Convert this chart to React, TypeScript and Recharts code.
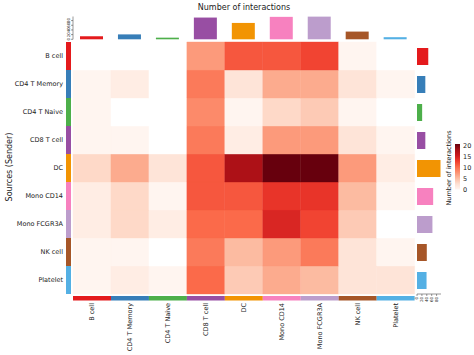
import React from 'react';
import { Bar, BarChart, Cell, XAxis, YAxis } from 'recharts';

const cellTypes = [
  'B cell',
  'CD4 T Memory',
  'CD4 T Naive',
  'CD8 T cell',
  'DC',
  'Mono CD14',
  'Mono FCGR3A',
  'NK cell',
  'Platelet',
];

const groupColors = [
  '#E41A1C',
  '#377EB8',
  '#4DAF4A',
  '#984EA3',
  '#F29403',
  '#F781BF',
  '#BC9DCC',
  '#A65628',
  '#54B0E4',
];

// interaction counts, one array per sender, receivers in cellTypes order
const bCell = [0, 0, 0, 8, 12, 12, 13, 1, 0];
const cd4Memory = [1, 2, 0, 10, 3, 7, 7, 3, 1];
const cd4Naive = [1, 0, 0, 9, 1, 4, 5, 1, 0];
const cd8T = [1, 1, 0, 10, 2, 8, 8, 3, 1];
const dc = [4, 7, 3, 12, 18, 21, 21, 8, 2];
const monoCD14 = [2, 4, 1, 12, 12, 14, 14, 6, 1];
const monoFCGR3A = [2, 4, 2, 11, 11, 15, 13, 5, 0];
const nkCell = [1, 1, 0, 10, 6, 8, 10, 3, 1];
const platelet = [1, 2, 1, 11, 5, 7, 6, 3, 3];

const counts = [bCell, cd4Memory, cd4Naive, cd8T, dc, monoCD14, monoFCGR3A, nkCell, platelet];

const barTicks = [0, 20, 40, 60, 80];
const legendTicks = [0, 5, 10, 15, 20];

const REDS = ['#fff5f0', '#fee0d2', '#fcbba1', '#fc9272', '#fb6a4a', '#ef3b2c', '#cb181d', '#a50f15', '#67000d'];

const nonZero = counts.flat().filter((v) => v > 0);
const vMin = Math.min(...nonZero);
const vMax = Math.max(...nonZero);

function hexToRgb(hex: string) {
  const n = parseInt(hex.slice(1), 16);
  return [(n >> 16) & 255, (n >> 8) & 255, n & 255];
}

function mix(a: string, b: string, f: number) {
  const ca = hexToRgb(a);
  const cb = hexToRgb(b);
  const c = ca.map((v, i) => Math.round(v + (cb[i] - v) * f));
  return `rgb(${c[0]},${c[1]},${c[2]})`;
}

function heatColor(v: number) {
  if (!v) return '#ffffff';
  const t = Math.max(0, Math.min(1, (v - vMin) / (vMax - vMin)));
  const pos = t * (REDS.length - 1);
  const i = Math.min(Math.floor(pos), REDS.length - 2);
  return mix(REDS[i], REDS[i + 1], pos - i);
}

const heatData = cellTypes.map((name) => {
  const row: Record<string, string | number> = { name };
  cellTypes.forEach((_, r) => {
    row[`s${r}`] = 1;
  });
  return row;
});

const colTotals = cellTypes.map((name, c) => ({
  name,
  total: counts.reduce((s, row) => s + row[c], 0),
}));

const rowTotals = cellTypes.map((name, r) => ({
  name,
  total: counts[r].reduce((s, v) => s + v, 0),
}));

const stripData = cellTypes.map((name) => ({ name, one: 1 }));

const TEXT = '#222';

function ColumnTick({ x, y, payload }: any) {
  return (
    <text
      x={x}
      y={y}
      dy="0.35em"
      textAnchor="end"
      fontSize={6.5}
      fill={TEXT}
      transform={`rotate(-90, ${x}, ${y})`}
    >
      {payload.value}
    </text>
  );
}

function RowTick({ x, y, payload }: any) {
  return (
    <text x={x} y={y} dy="0.35em" textAnchor="end" fontSize={6.5} fill={TEXT}>
      {cellTypes[8 - Math.floor(payload.value)]}
    </text>
  );
}

function TinyLeftTick({ x, y, payload }: any) {
  return (
    <text x={x} y={y} textAnchor="middle" fontSize={4} fill={TEXT} transform={`rotate(-90, ${x}, ${y})`}>
      {payload.value}
    </text>
  );
}

function TinyBottomTick({ x, y, payload }: any) {
  return (
    <text
      x={x}
      y={y}
      dy="0.35em"
      textAnchor="end"
      fontSize={4}
      fill={TEXT}
      transform={`rotate(-90, ${x}, ${y})`}
    >
      {payload.value}
    </text>
  );
}

const abs = (left: number, top: number): React.CSSProperties => ({ position: 'absolute', left, top });

export default function App() {
  return (
    <div
      style={{
        position: 'absolute',
        left: 0,
        top: 0,
        width: 474,
        height: 355,
        background: '#fff',
        overflow: 'hidden',
        fontFamily: '"DejaVu Sans", sans-serif',
      }}
    >
      {/* main heatmap */}
      <div style={abs(0, 0)}>
        <BarChart
          width={474}
          height={355}
          data={heatData}
          barCategoryGap={0}
          margin={{ top: 42, right: 59.4, bottom: 0, left: 13 }}
        >
          <XAxis
            dataKey="name"
            height={61}
            interval={0}
            axisLine={false}
            tickLine={false}
            tickSize={0}
            tickMargin={9}
            tick={<ColumnTick />}
          />
          <YAxis
            type="number"
            domain={[0, 9]}
            ticks={[0.5, 1.5, 2.5, 3.5, 4.5, 5.5, 6.5, 7.5, 8.5]}
            interval={0}
            width={60}
            axisLine={false}
            tickLine={false}
            tickSize={0}
            tickMargin={10}
            tick={<RowTick />}
          />
          {cellTypes
            .map((_, r) => r)
            .reverse()
            .map((r) => (
              <Bar key={r} dataKey={`s${r}`} stackId="heat" isAnimationActive={false}>
                {cellTypes.map((_, c) => {
                  const fill = heatColor(counts[r][c]);
                  return <Cell key={c} fill={fill} stroke={fill} strokeWidth={0.4} />;
                })}
              </Bar>
            ))}
        </BarChart>
      </div>

      {/* sender colour strip */}
      <div style={abs(66, 42)}>
        <BarChart
          width={5}
          height={252}
          layout="vertical"
          data={stripData}
          barCategoryGap={0}
          margin={{ top: 0, right: 0, bottom: 0, left: 0 }}
        >
          <XAxis type="number" domain={[0, 1]} hide />
          <YAxis type="category" dataKey="name" hide />
          <Bar dataKey="one" isAnimationActive={false}>
            {groupColors.map((c) => (
              <Cell key={c} fill={c} />
            ))}
          </Bar>
        </BarChart>
      </div>

      {/* receiver colour strip */}
      <div style={abs(73, 296)}>
        <BarChart
          width={341.6}
          height={4.5}
          data={stripData}
          barCategoryGap={0}
          margin={{ top: 0, right: 0, bottom: 0, left: 0 }}
        >
          <XAxis dataKey="name" hide />
          <YAxis type="number" domain={[0, 1]} hide />
          <Bar dataKey="one" isAnimationActive={false}>
            {groupColors.map((c) => (
              <Cell key={c} fill={c} />
            ))}
          </Bar>
        </BarChart>
      </div>

      {/* incoming totals on top */}
      <div style={abs(0, 0)}>
        <BarChart
          width={474}
          height={42}
          data={colTotals}
          margin={{ top: 16.5, right: 59.4, bottom: 2.7, left: 59 }}
        >
          <XAxis dataKey="name" hide />
          <YAxis
            type="number"
            domain={[0, 97.5]}
            ticks={barTicks}
            interval={0}
            width={14}
            axisLine={{ stroke: '#333', strokeWidth: 0.5 }}
            tickLine={{ stroke: '#333', strokeWidth: 0.5 }}
            tickSize={2}
            tickMargin={1}
            tick={<TinyLeftTick />}
          />
          <Bar dataKey="total" barSize={23} isAnimationActive={false}>
            {groupColors.map((c) => (
              <Cell key={c} fill={c} />
            ))}
          </Bar>
        </BarChart>
      </div>

      {/* outgoing totals on the right */}
      <div style={abs(412.7, 42)}>
        <BarChart
          width={36}
          height={270}
          layout="vertical"
          data={rowTotals}
          margin={{ top: 0, right: 8, bottom: 0, left: 4 }}
        >
          <XAxis
            type="number"
            domain={[0, 98]}
            ticks={barTicks}
            interval={0}
            height={18}
            axisLine={{ stroke: '#333', strokeWidth: 0.5 }}
            tickLine={{ stroke: '#333', strokeWidth: 0.5 }}
            tickSize={2}
            tickMargin={1}
            tick={<TinyBottomTick />}
          />
          <YAxis type="category" dataKey="name" hide />
          <Bar dataKey="total" barSize={17} isAnimationActive={false}>
            {groupColors.map((c) => (
              <Cell key={c} fill={c} />
            ))}
          </Bar>
        </BarChart>
      </div>

      {/* colour legend */}
      <div style={abs(455, 140)}>
        <BarChart
          width={24}
          height={54}
          data={[{ name: 'scale', top: vMax }]}
          barCategoryGap={0}
          margin={{ top: 4, right: 0, bottom: 4.5, left: 0 }}
        >
          <defs>
            <linearGradient id="legendReds" x1="0" y1="1" x2="0" y2="0">
              {REDS.map((c, i) => (
                <stop key={c} offset={`${(i / (REDS.length - 1)) * 100}%`} stopColor={c} />
              ))}
            </linearGradient>
          </defs>
          <XAxis dataKey="name" hide />
          <YAxis
            type="number"
            orientation="right"
            domain={[0, vMax]}
            ticks={legendTicks}
            interval={0}
            width={19}
            axisLine={false}
            tickLine={false}
            tickSize={0}
            tickMargin={3}
            tick={{ fill: TEXT, fontSize: 6.5, textAnchor: 'start' }}
          />
          <Bar dataKey="top" fill="url(#legendReds)" isAnimationActive={false} />
        </BarChart>
      </div>

      {/* titles */}
      <svg width={474} height={355} style={{ position: 'absolute', left: 0, top: 0, pointerEvents: 'none' }}>
        <text x={244} y={10} textAnchor="middle" fontSize={8} fill={TEXT}>
          Number of interactions
        </text>
        <text x={11.5} y={167} textAnchor="middle" fontSize={8} fill={TEXT} transform="rotate(-90, 11.5, 167)">
          Sources (Sender)
        </text>
        <text x={450.5} y={168} textAnchor="middle" fontSize={6.5} fill={TEXT} transform="rotate(-90, 450.5, 168)">
          Number of interactions
        </text>
      </svg>
    </div>
  );
}
